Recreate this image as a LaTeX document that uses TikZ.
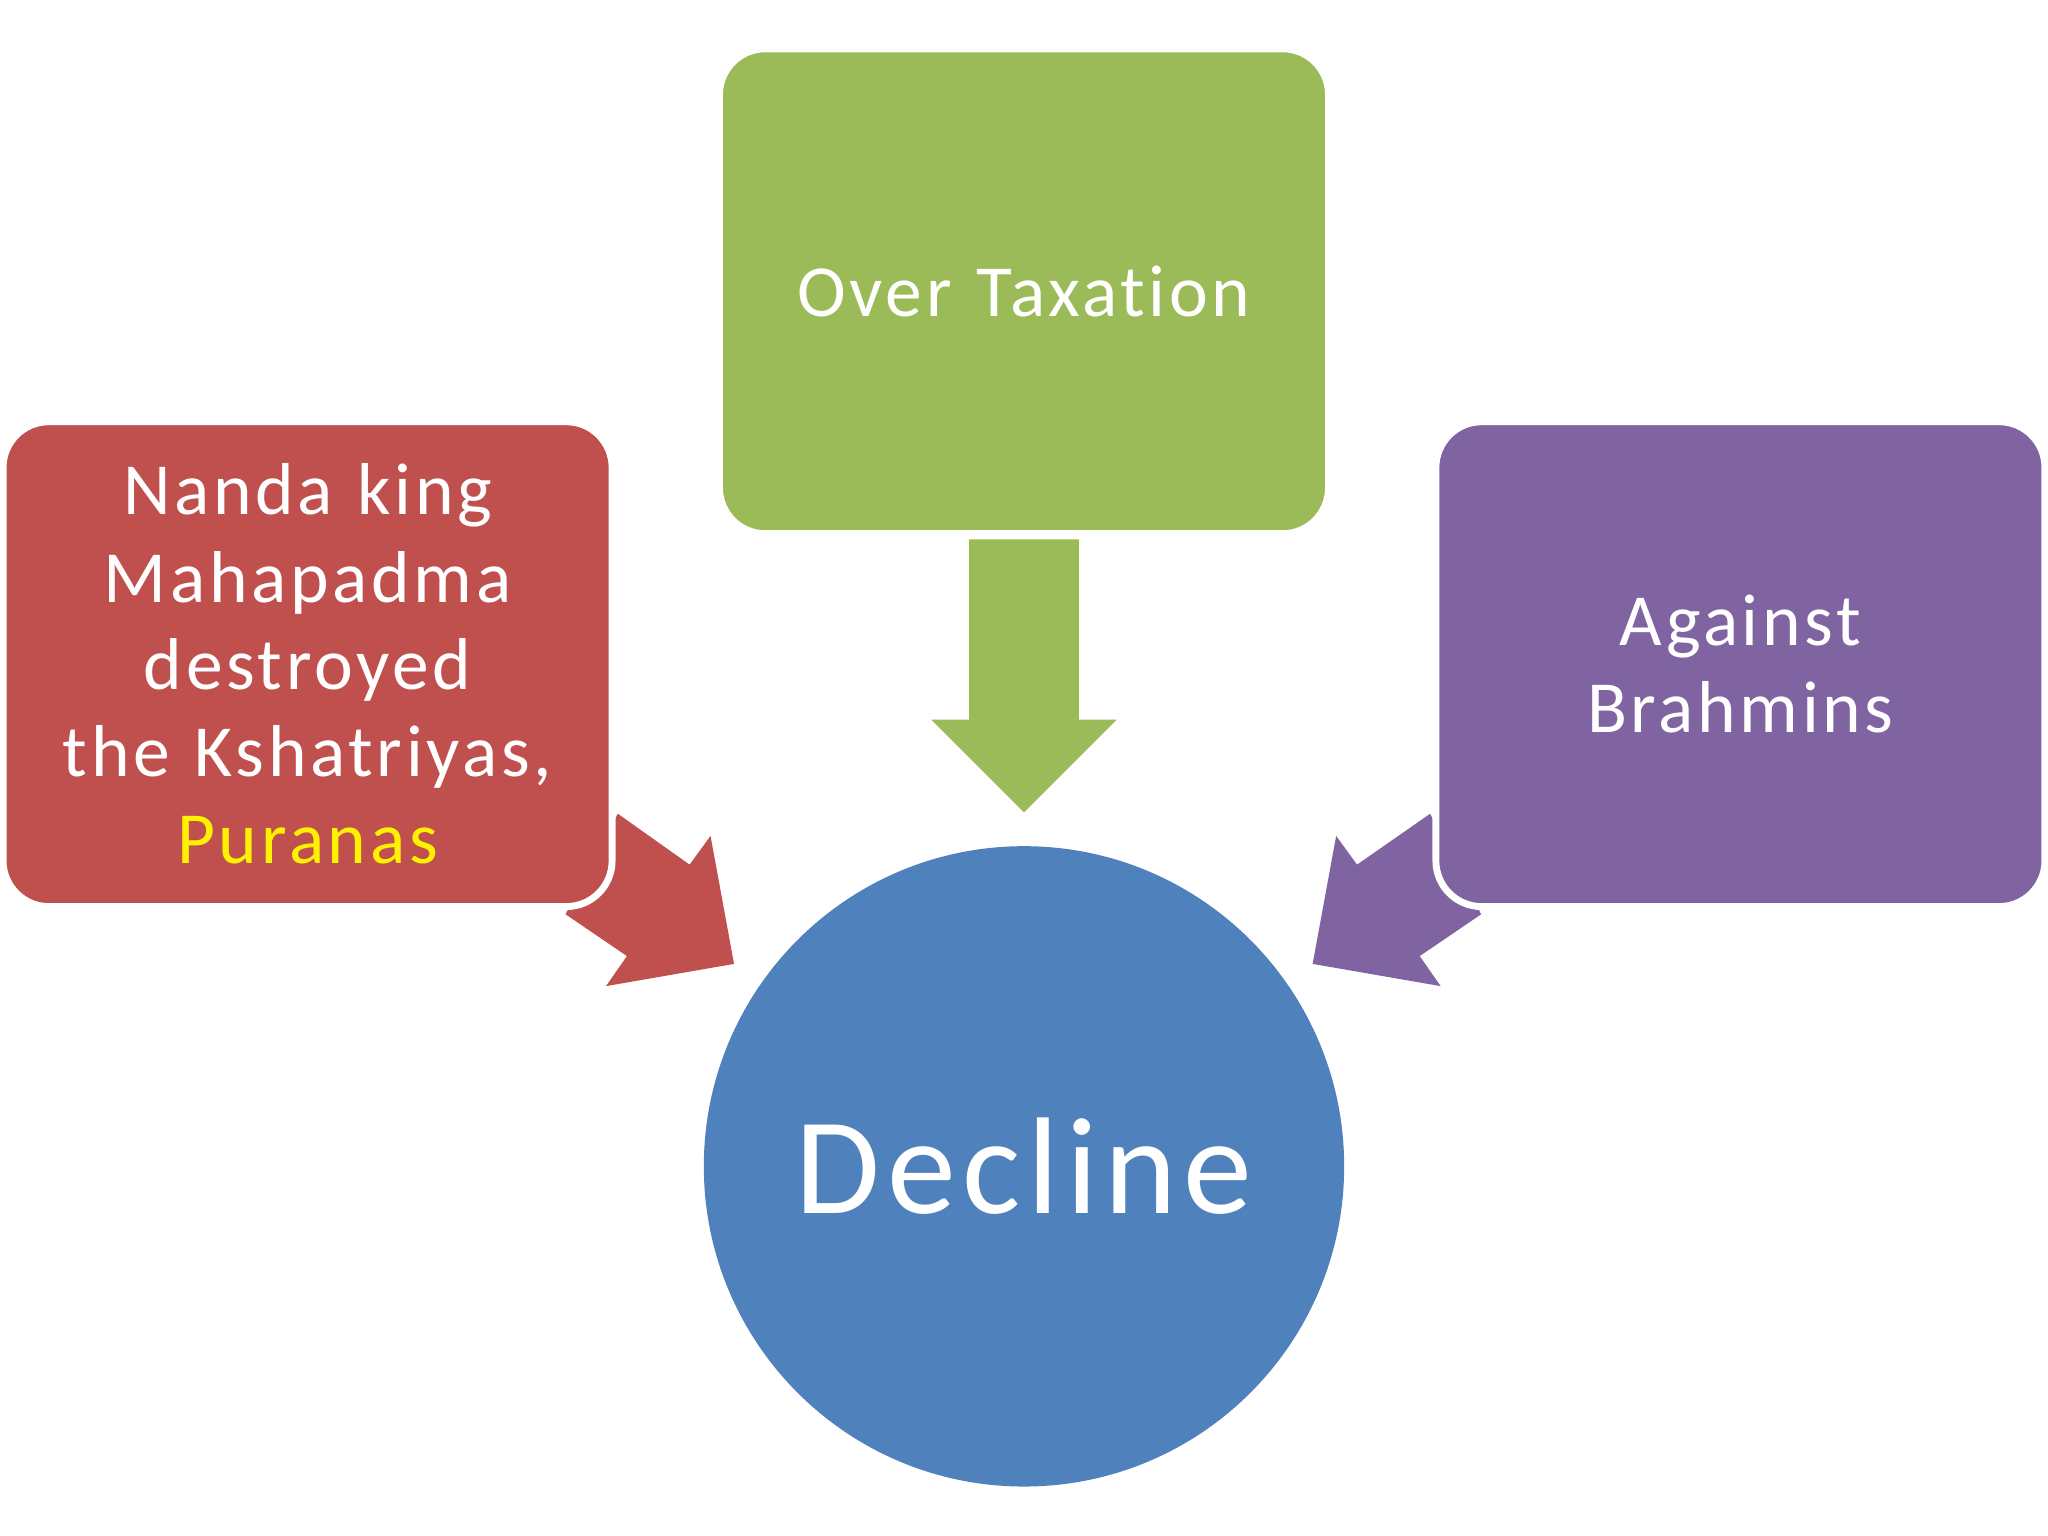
\documentclass[tikz,border=0pt]{standalone}
\usepackage{fontspec}
\setmainfont[LetterSpace=5,Ligatures=NoCommon]{Carlito}
\begin{document}
\begin{tikzpicture}[x=0.01cm,y=-0.01cm]
\tikzset{box/.style={draw=white,line width=1.5pt,rounded corners=0.35cm,minimum width=4.66cm,minimum height=3.71cm,text width=4.3cm,inner sep=0pt,text=white,align=center,font=\fontsize{16}{19}\selectfont}}
\definecolor{cg}{HTML}{9BBB59}\definecolor{cr}{HTML}{C0504D}\definecolor{cp}{HTML}{8064A2}\definecolor{cb}{HTML}{4F81BD}
\useasboundingbox (0,0) rectangle (1568,1176);
\fill[white] (0,0) rectangle (1568,1176);
\fill[cr] (473,623)--(528,662)--(544,640)--(562,738)--(464,755)--(480,732)--(433,700)--cycle;
\fill[cp] (1095,623)--(1039,662)--(1023,640)--(1005,738)--(1103,755)--(1087,732)--(1134,700)--cycle;
\fill[cg] (742,413)--(826,413)--(826,551)--(855,551)--(784,622)--(713,551)--(742,551)--cycle;
\node[box,fill=cg] (tax) at (784,223) {Over Taxation};
\node[box,fill=cr] (nanda) at (235.5,508.5) {Nanda king\\Mahapadma\\destroyed\\the Kshatriyas,\\\textcolor{yellow}{Puranas}};
\node[box,fill=cp] (brah) at (1332.5,508.5) {Against Brahmins};
\node[circle,fill=cb,minimum size=4.9cm,text=white,font=\fontsize{30}{36}\selectfont] (dec) at (784,893) {Decline};
\end{tikzpicture}
\end{document}
